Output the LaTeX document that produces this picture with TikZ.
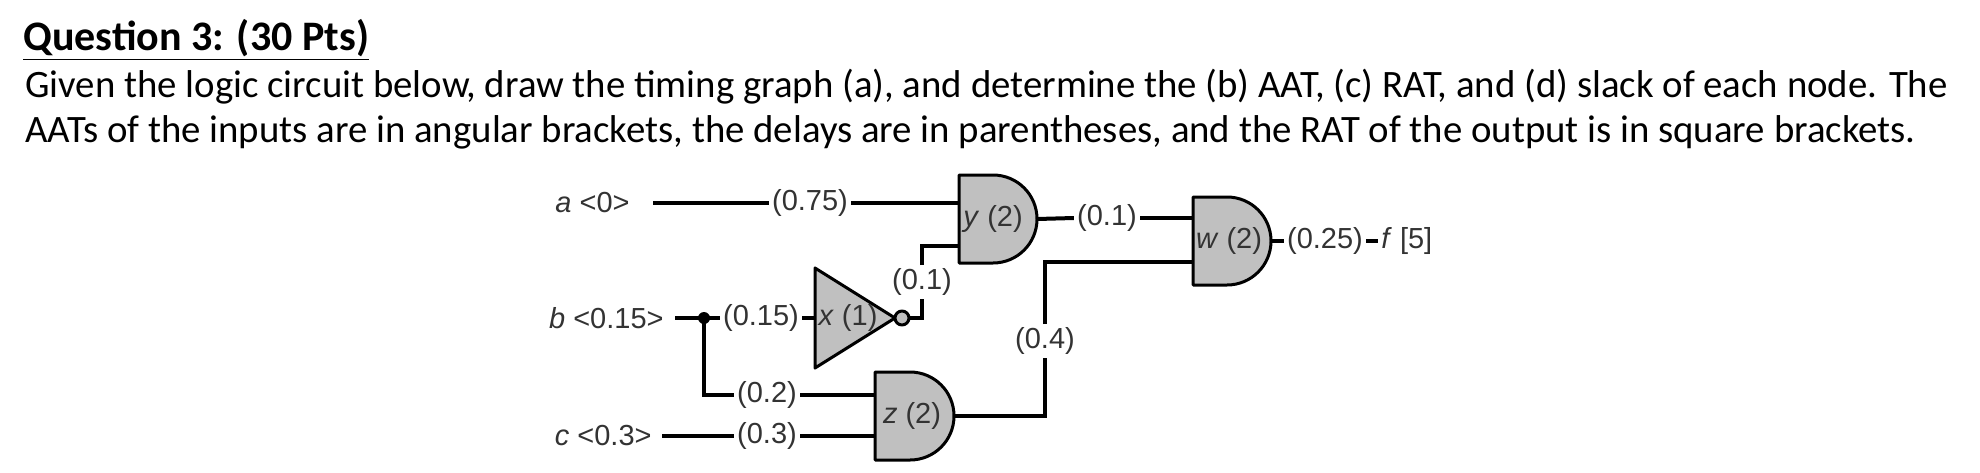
\documentclass[tikz,border=0pt]{standalone}
\usepackage{fontspec}
\setmainfont{Carlito}
\newfontfamily\arial{Liberation Sans}
\begin{document}
\begin{tikzpicture}[x=0.5pt,y=-0.5pt,
  wire/.style={line width=2pt,black},
  gatebody/.style={draw=black,line width=1.5pt,fill=gatefill,line join=round},
  lab/.style={font=\arial\fontsize{14.5}{16}\selectfont,text=black!80,inner sep=1.5pt},
  txt/.style={anchor=base west,inner sep=0pt}]
\definecolor{gatefill}{HTML}{C0C0C0}
\fill[white] (0,0) rectangle (1980,472);
\useasboundingbox (0,0) rectangle (1980,472);
% text
\node[txt,font=\bfseries\fontsize{21}{24}\selectfont] (title) at (23,50) {\underline{Question 3: (30 Pts)}};
\node[txt,font=\fontsize{19.4}{24}\selectfont] (l1) at (25,97) {Given the logic circuit below, draw the timing graph (a), and determine the (b) AAT, (c) RAT, and (d) slack of each node. The};
\node[txt,font=\fontsize{19.4}{24}\selectfont] (l2) at (25,142) {AATs of the inputs are in angular brackets, the delays are in parentheses, and the RAT of the output is in square brackets.};
% gates
\draw[gatebody] (959,175) -- (993,175) arc[start angle=-90,end angle=90,radius=44] -- (959,263) -- cycle;
\node[lab] (gy) at (993,219) {\textit{y} (2)};
\draw[gatebody] (1193,197) -- (1227,197) arc[start angle=-90,end angle=90,radius=44] -- (1193,285) -- cycle;
\node[lab] (gw) at (1229,241) {\textit{w} (2)};
\draw[gatebody] (875,372) -- (910,372) arc[start angle=-90,end angle=90,radius=44] -- (875,460) -- cycle;
\node[lab] (gz) at (912,416) {\textit{z} (2)};
\draw[gatebody] (815,268) -- (895,318) -- (815,368) -- cycle;
\node[lab] (gx) at (848,318) {\textit{x} (1)};
\draw[gatebody] (902,318) circle[radius=7];
\coordinate (yin1) at (959,203); \coordinate (yin2) at (959,246); \coordinate (yout) at (1037,219);
\coordinate (win1) at (1193,218); \coordinate (win2) at (1193,262); \coordinate (wout) at (1271,241);
\coordinate (zin1) at (875,395); \coordinate (zin2) at (875,436); \coordinate (zout) at (954,416);
\coordinate (xin) at (815,318); \coordinate (xout) at (909,318);
% inputs
\node[lab,anchor=east] (a) at (633,203) {\textit{a} <0>};
\node[lab,anchor=east] (b) at (667,318) {\textit{b} <0.15>};
\node[lab,anchor=east] (c) at (655,436) {\textit{c} <0.3>};
\node[lab,anchor=west] (f) at (1378,241) {\textit{f} [5]};
\node[lab] (d075) at (810,203) {(0.75)};
\node[lab] (d015) at (761,318) {(0.15)};
\node[lab] (d01a) at (922,282) {(0.1)};
\node[lab] (d01b) at (1107,218) {(0.1)};
\node[lab] (d04) at (1045,341) {(0.4)};
\node[lab] (d025) at (1325,241) {(0.25)};
\node[lab] (d02) at (767,395) {(0.2)};
\node[lab] (d03) at (767,436) {(0.3)};
\coordinate (astart) at (653,203);
\coordinate (dot) at (704,318);
% wires
\draw[wire] (astart) -- (d075.west); \draw[wire] (d075.east) -- (yin1);
\draw[wire] (b.east) ++(8,0) -- (d015.west); \draw[wire] (d015.east) -- (xin);
\fill (dot) circle[radius=6];
\draw[wire] (dot) |- (d02.west); \draw[wire] (d02.east) -- (zin1);
\draw[wire] (c.east) ++(7,0) -- (d03.west); \draw[wire] (d03.east) -- (zin2);
\draw[wire] (xout) -| (d01a.south); \draw[wire] (d01a.north) |- (yin2);
\draw[wire] (yout) -- (d01b.west); \draw[wire] (d01b.east) -- (win1);
\draw[wire] (zout) -| (d04.south); \draw[wire] (d04.north) |- (win2);
\draw[wire] (wout) -- (d025.west); \draw[wire] (d025.east) -- (f.west);
\end{tikzpicture}
\end{document}
